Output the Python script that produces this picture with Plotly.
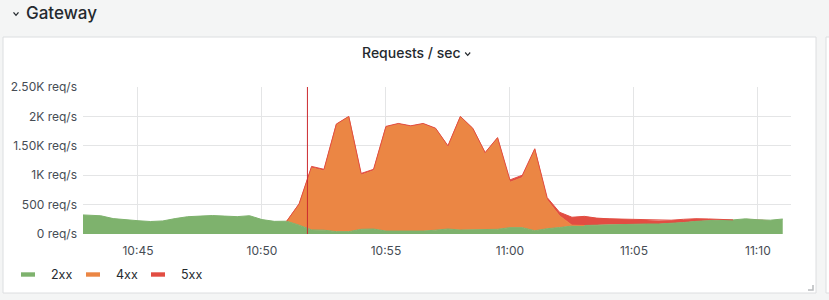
import pandas as pd
import plotly.graph_objects as go

# ---------------- data ----------------
SERIES_NAMES = ["2xx", "4xx", "5xx"]
SERIES_COLORS = ["#7EB26D", "#EB8644", "#E24D42"]

START_TIME = "2024-01-01 10:42:30"
STEP = "30s"

green_2xx = [330, 320, 310, 262, 240, 226, 212, 222, 262, 294, 304, 314, 304, 295, 311,
             245, 215, 218, 150, 70, 65, 40, 40, 80, 85, 50, 50, 50, 50, 65,
             85, 68, 70, 78, 80, 108, 108, 56, 90, 110, 135, 145, 152, 160, 166,
             170, 170, 170, 180, 195, 215, 232, 238, 240, 258, 242, 235, 255]
orange_4xx = [0, 0, 0, 0, 0, 0, 0, 0, 0, 0, 0, 0, 0, 0, 0,
              0, 0, 0, 360, 1055, 1010, 1825, 1955, 922, 995, 1772, 1822, 1782, 1822, 1727,
              1407, 1924, 1722, 1297, 1550, 772, 852, 1384, 490, 200, 15, 0, 0, 0, 0,
              0, 0, 0, 0, 0, 0, 0, 0, 0, 0, 0, 0, 0]
red_5xx = [0, 0, 0, 0, 0, 0, 0, 0, 0, 0, 0, 0, 0, 0, 0,
           0, 0, 0, 5, 25, 25, 5, 5, 28, 20, 8, 8, 8, 8, 8,
           8, 8, 8, 10, 10, 40, 40, 10, 40, 60, 135, 155, 118, 98, 87,
           78, 65, 58, 55, 55, 45, 24, 7, 0, 0, 0, 0, 0]

X_RANGE = ["2024-01-01 10:42:47", "2024-01-01 11:11:20"]
X_TICK0 = "2024-01-01 10:45:00"
ANNOTATION_TIME = "2024-01-01 10:51:50"

Y_RANGE = [0, 2500]
Y_TICKVALS = [0, 500, 1000, 1500, 2000, 2500]
Y_TICKTEXT = ["0 req/s", "500 req/s", "1K req/s", "1.50K req/s", "2K req/s", "2.50K req/s"]

ROW_TITLE = "Gateway"
PANEL_TITLE = "Requests / sec"

times = pd.date_range(START_TIME, periods=len(green_2xx), freq=STEP)
series = [green_2xx, orange_4xx, red_5xx]

# ---------------- layout geometry (pixels) ----------------
W, H = 829, 300
PL, PR, PT, PB = 83, 791, 87, 234  # plot area


def px(x):
    return (x - PL) / (PR - PL)


def py(y):
    return (PB - y) / (PB - PT)


FONT = "Inter, Roboto, 'Open Sans', sans-serif"
TEXT = "#24292e"
TICK = "#464c54"

fig = go.Figure()
# stacked filled areas (no outlines)
for name, vals, col in zip(SERIES_NAMES, series, SERIES_COLORS):
    fig.add_trace(go.Scatter(
        x=times, y=vals, name=name, stackgroup="one", mode="lines",
        line=dict(color=col, width=0), fillcolor=col, showlegend=False,
        hoverinfo="skip",
    ))

# outline of each series drawn only where the series has data
cum = [0] * len(green_2xx)
for name, vals, col in zip(SERIES_NAMES, series, SERIES_COLORS):
    cum = [c + v for c, v in zip(cum, vals)]
    n = len(vals)
    top = []
    for i in range(n):
        active = vals[i] > 0 or (i > 0 and vals[i - 1] > 0) or (i < n - 1 and vals[i + 1] > 0)
        top.append(cum[i] if active else None)
    fig.add_trace(go.Scatter(
        x=times, y=top, mode="lines", line=dict(color=col, width=1),
        connectgaps=False, showlegend=False, hoverinfo="skip",
    ))

shapes = []
# page panels
shapes.append(dict(type="rect", xref="paper", yref="paper",
                   x0=px(3), x1=px(816), y0=py(293), y1=py(37),
                   fillcolor="white", line=dict(color="#dcdee0", width=1), layer="below"))
shapes.append(dict(type="rect", xref="paper", yref="paper",
                   x0=px(826), x1=px(840), y0=py(293), y1=py(37),
                   fillcolor="white", line=dict(color="#dcdee0", width=1), layer="below"))
# chevrons
shapes.append(dict(type="path", xref="paper", yref="paper",
                   path=f"M{px(13.5)},{py(12.3)} L{px(16)},{py(15.3)} L{px(18.5)},{py(12.3)}",
                   line=dict(color=TEXT, width=1.3)))
shapes.append(dict(type="path", xref="paper", yref="paper",
                   path=f"M{px(465.2)},{py(52.5)} L{px(467.7)},{py(55.3)} L{px(470.2)},{py(52.5)}",
                   line=dict(color=TEXT, width=1.2)))
# resize corner
shapes.append(dict(type="path", xref="paper", yref="paper",
                   path=f"M{px(813)},{py(285)} L{px(813)},{py(290)} L{px(808)},{py(290)}",
                   line=dict(color="#b8babd", width=1.5)))
# annotation marker line
shapes.append(dict(type="line", xref="x", yref="paper",
                   x0=ANNOTATION_TIME, x1=ANNOTATION_TIME, y0=0, y1=1,
                   line=dict(color="#CC2A2F", width=1)))

annotations = [
    dict(text=ROW_TITLE, xref="paper", yref="paper", x=px(24), y=py(13),
         xanchor="left", yanchor="middle", showarrow=False,
         font=dict(family=FONT, size=17, color=TEXT, weight=500)),
    dict(text=PANEL_TITLE, xref="paper", yref="paper", x=px(360), y=py(53),
         xanchor="left", yanchor="middle", showarrow=False,
         font=dict(family=FONT, size=14, color=TEXT, weight=500)),
]

# legend (custom, compact Grafana style)
LEG_X0, LEG_STEP, LEG_Y = 21, 65, 274.5
for i, (name, col) in enumerate(zip(SERIES_NAMES, SERIES_COLORS)):
    x0 = LEG_X0 + i * LEG_STEP
    shapes.append(dict(type="rect", xref="paper", yref="paper",
                       x0=px(x0), x1=px(x0 + 14), y0=py(LEG_Y + 2.2), y1=py(LEG_Y - 2.2),
                       fillcolor=col, line=dict(width=0)))
    annotations.append(dict(text=name, xref="paper", yref="paper", x=px(x0 + 28), y=py(LEG_Y - 0.5),
                            xanchor="left", yanchor="middle", showarrow=False,
                            font=dict(family=FONT, size=12.5, color=TEXT)))

fig.update_layout(
    width=W, height=H, autosize=False,
    margin=dict(l=PL, r=W - PR, t=PT, b=H - PB, pad=0),
    paper_bgcolor="#f4f5f5", plot_bgcolor="white",
    showlegend=False,
    shapes=shapes, annotations=annotations,
    font=dict(family=FONT, size=12, color=TICK),
    xaxis=dict(type="date", range=X_RANGE, tick0=X_TICK0, dtick=5 * 60 * 1000,
               tickformat="%H:%M", showgrid=True, gridcolor="#e4e5e6", gridwidth=1,
               zeroline=False, showline=False, ticks="", ticklabelstandoff=8,
               tickfont=dict(family=FONT, size=12, color=TICK), fixedrange=True),
    yaxis=dict(range=Y_RANGE, tickvals=Y_TICKVALS, ticktext=Y_TICKTEXT,
               showgrid=True, gridcolor="#e4e5e6", gridwidth=1,
               zeroline=False, showline=False, ticks="", ticklabelstandoff=5,
               tickfont=dict(family=FONT, size=12, color=TICK), fixedrange=True),
)

fig.write_html("out.html", config={"displayModeBar": False})
